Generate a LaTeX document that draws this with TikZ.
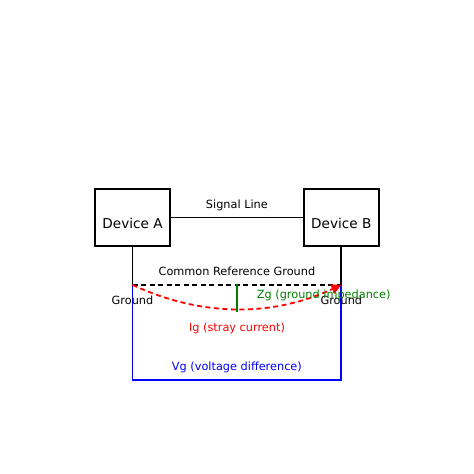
\documentclass[tikz,border=0pt]{standalone}
\usepackage{fontspec}
\setmainfont{DejaVu Sans}
\usepackage{tikz}
\usetikzlibrary{positioning}
\usetikzlibrary{arrows.meta}
\definecolor{zgreen}{RGB}{0,128,0}
\tikzset{every picture/.style={line width=1.8pt},device/.style={draw,rectangle,minimum width=75pt,minimum height=57pt,label={[devtext,yshift=-5.5pt]center:#1}},devtext/.style={inner sep=0pt,font=\fontsize{13.6}{16}\selectfont},lbl/.style={inner sep=0pt,font=\fontsize{11.3}{13}\selectfont}}

\begin{document}
\begin{tikzpicture}[x=1pt,y=-1pt,line width=1.8pt]
\useasboundingbox (0,0) rectangle (474,474);
\node (devA) [device=Device A] at (132.5,217.5) {};
\node (devB) [device=Device B, right=132pt of devA] {};
\path (devA.south) ++(0,38) coordinate (gA) ++(0,95) coordinate (vA);
\path (devB.south) ++(0,38) coordinate (gB) ++(0,95) coordinate (vB);
\coordinate (zt) at (237,284);
\coordinate (zb) at (237,312);

\draw (devA) -- node [lbl, above=6pt] {Signal Line} (devB);
\draw (devA.south) -- (gA);
\draw (devB.south) -- (gB);
\draw[blue] (gA) -- (vA) -- node [lbl, above=6pt] {Vg (voltage difference)} (vB) -- (gB);
\draw[dash pattern=on 5pt off 3.5pt] (gA) -- node [lbl, above=8pt] {Common Reference Ground} (gB);
\draw[red, dash pattern=on 5pt off 3.5pt, -{Triangle[length=10pt,width=10pt]}] (gA) .. controls (202,317) and (272,317) .. (gB);
\draw[zgreen] (zt) -- (zb);
\node (gndA) [lbl, below=10pt of gA] {Ground};
\node (gndB) [lbl, below=10pt of gB] {Ground};
\node (zg) [lbl, zgreen, anchor=west] at (256,295) {Zg (ground impedance)};
\node (ig) [lbl, red] at (237,328) {Ig (stray current)};
\end{tikzpicture}
\end{document}
